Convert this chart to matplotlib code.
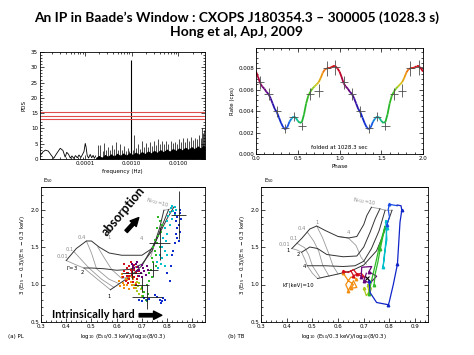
import numpy as np
import matplotlib

matplotlib.use("Agg")
import matplotlib.pyplot as plt
from matplotlib.collections import LineCollection
from matplotlib.colors import LinearSegmentedColormap
from matplotlib.patches import FancyArrowPatch
from matplotlib.ticker import MultipleLocator, FixedLocator

W, H = 474, 355

# --- power density spectrum ---
f_low = [1.12e-5, 1.25e-5, 1.43e-5, 1.65e-5, 1.9e-5, 2.15e-5, 2.5e-5, 2.98e-5, 3.4e-5,
         3.8e-5, 4.1e-5, 4.5e-5, 4.9e-5, 5.3e-5, 5.8e-5, 6.3e-5, 6.9e-5, 7.5e-5, 8.2e-5,
         9.0e-5, 9.6e-5, 1.02e-4, 1.06e-4, 1.12e-4, 1.2e-4, 1.3e-4, 1.4e-4, 1.5e-4,
         1.6e-4, 1.7e-4]
p_low = [1.2, 2.2, 2.9, 2.6, 1.3, 0.2, 1.8, 3.5, 2.8, 0.6, 2.2, 1.5, 0.3, 1.0, 0.2, 1.1,
         0.4, 1.3, 0.5, 1.6, 2.5, 5.1, 4.0, 1.2, 0.3, 1.5, 0.4, 1.2, 0.2, 1.0]
f_env = [1.7e-4, 2.0e-4, 2.3e-4, 2.7e-4, 3.1e-4, 3.6e-4, 4.2e-4, 4.9e-4, 5.7e-4, 6.6e-4,
         7.7e-4, 9.0e-4, 1.05e-3, 1.22e-3, 1.42e-3, 1.65e-3, 1.92e-3, 2.24e-3, 2.6e-3,
         3.0e-3, 3.5e-3, 4.1e-3, 4.8e-3, 5.6e-3, 6.5e-3, 7.6e-3, 8.8e-3, 1.03e-2, 1.2e-2,
         1.4e-2, 1.63e-2, 1.9e-2, 2.2e-2, 2.6e-2, 3.0e-2, 3.4e-2, 3.7e-2]
p_env = [0.5, 1.2, 0.6, 1.5, 0.9, 1.7, 1.0, 1.9, 1.2, 2.0, 1.3, 2.1, 1.5, 2.3, 1.6, 2.5,
         1.8, 2.7, 2.0, 2.9, 2.2, 3.1, 2.4, 3.3, 2.6, 3.5, 2.8, 3.7, 3.0, 3.9, 3.2, 4.1,
         3.4, 4.3, 3.6, 4.6, 4.0]
f_spk = [1.9e-4, 2.1e-4, 2.4e-4, 2.6e-4, 2.9e-4, 3.1e-4, 3.5e-4, 3.8e-4, 4.2e-4, 4.6e-4,
         5.1e-4, 5.6e-4, 6.2e-4, 6.8e-4, 7.5e-4, 8.3e-4, 9.0e-4, 1.08e-3, 1.15e-3, 1.25e-3,
         1.35e-3, 1.5e-3, 1.65e-3, 1.8e-3, 2.0e-3, 2.2e-3, 2.45e-3, 2.7e-3, 3.0e-3, 3.3e-3,
         3.7e-3, 4.1e-3, 4.5e-3, 5.0e-3, 5.5e-3, 6.1e-3, 6.8e-3, 7.5e-3, 8.3e-3, 9.2e-3,
         1.02e-2, 1.12e-2, 1.24e-2, 1.37e-2, 1.52e-2, 1.68e-2, 1.85e-2, 2.05e-2, 2.25e-2,
         2.5e-2, 2.75e-2, 3.0e-2, 3.2e-2, 3.4e-2, 3.55e-2]
p_spk = [4.5, 4.7, 2.5, 5.3, 3.0, 4.0, 2.8, 4.6, 3.2, 5.5, 2.9, 4.8, 3.1, 4.2, 2.7, 3.5,
         2.5, 3.0, 8.0, 3.5, 5.0, 3.2, 6.0, 3.8, 5.2, 4.0, 5.5, 4.3, 6.0, 4.5, 6.5, 4.8,
         6.0, 5.0, 5.8, 4.8, 6.0, 5.2, 5.5, 4.9, 6.5, 5.4, 7.0, 5.6, 6.8, 5.8, 7.2, 6.2,
         7.0, 6.4, 8.0, 7.0, 10.0, 8.5, 9.5]
pulse_freq, pulse_pow = 9.725e-4, 32.5
sig_levels = [15.5, 14.2, 13.1]

# --- folded light curve ---
bin_phase = [0.05, 0.15, 0.25, 0.35, 0.45, 0.55, 0.65, 0.75, 0.85, 0.95]
bin_rate = [0.0067, 0.0056, 0.0040, 0.0024, 0.0035, 0.0026, 0.0056, 0.0059, 0.0080, 0.0081]
bin_err = [0.0006, 0.0006, 0.0005, 0.0004, 0.0004, 0.0004, 0.0006, 0.0006, 0.0007, 0.0007]
curve_phase = [0.0, 0.025, 0.05, 0.075, 0.1, 0.125, 0.15, 0.175, 0.2, 0.225, 0.25, 0.275,
               0.3, 0.325, 0.35, 0.375, 0.4, 0.425, 0.45, 0.475, 0.5, 0.525, 0.55, 0.575,
               0.6, 0.625, 0.65, 0.675, 0.7, 0.725, 0.75, 0.775, 0.8, 0.825, 0.85, 0.875,
               0.9, 0.925, 0.95, 0.975, 1.0]
curve_rate = [0.0077, 0.0072, 0.0066, 0.0063, 0.0061, 0.0058, 0.0056, 0.0052, 0.0047,
              0.0042, 0.0039, 0.0034, 0.0029, 0.0025, 0.0023, 0.0025, 0.0030, 0.0033,
              0.0035, 0.0034, 0.0031, 0.0029, 0.0030, 0.0037, 0.0047, 0.0054, 0.0058,
              0.0061, 0.0063, 0.0065, 0.0067, 0.0071, 0.0076, 0.0079, 0.0080, 0.0080,
              0.0081, 0.0082, 0.0082, 0.0080, 0.0077]

# --- (a) PL quantile diagram: model grid ---
pl_gamma = {
    "3": ([0.40, 0.44, 0.48, 0.50, 0.53, 0.57, 0.62, 0.70, 0.74, 0.77, 0.80, 0.826],
          [1.32, 1.48, 1.58, 1.58, 1.50, 1.42, 1.39, 1.39, 1.48, 1.68, 1.88, 2.03]),
    "2": ([0.47, 0.50, 0.55, 0.60, 0.65, 0.70, 0.74, 0.77, 0.806],
          [1.22, 1.22, 1.21, 1.19, 1.20, 1.27, 1.45, 1.70, 2.00]),
    "1": ([0.575, 0.61, 0.65, 0.70, 0.75, 0.77, 0.787],
          [0.93, 1.01, 1.10, 1.25, 1.55, 1.75, 1.99]),
}
pl_nh = {
    "0.01": ([0.40, 0.44, 0.47, 0.52, 0.575], [1.32, 1.26, 1.22, 1.08, 0.93]),
    "0.1": ([0.43, 0.46, 0.49, 0.54, 0.59], [1.44, 1.33, 1.22, 1.07, 0.96]),
    "0.4": ([0.48, 0.50, 0.52, 0.57, 0.61], [1.58, 1.42, 1.21, 1.07, 1.01]),
    "1": ([0.525, 0.55, 0.58, 0.62, 0.65], [1.50, 1.36, 1.20, 1.08, 1.10]),
    "4": ([0.755, 0.745, 0.735], [1.60, 1.48, 1.37]),
    "10": ([0.826, 0.806, 0.787], [2.03, 2.00, 1.99]),
}
pl_nh_label = {"0.01": (0.385, 1.38), "0.1": (0.415, 1.47), "0.4": (0.462, 1.63),
               "1": (0.568, 1.63), "4": (0.70, 1.61)}
pl_gamma_label = {r"$\Gamma$=3": (0.425, 1.225), "2": (0.462, 1.16), "1": (0.568, 0.84)}

# observed phase-resolved quantiles (a)
pl_clusters = [
    (0.80, [0.61, 0.615, 0.62, 0.625, 0.63, 0.635, 0.64, 0.645, 0.65, 0.655, 0.66, 0.665,
            0.67, 0.675, 0.62, 0.64, 0.66, 0.63, 0.65],
     [1.05, 0.98, 1.10, 1.02, 0.96, 1.08, 1.00, 1.12, 0.94, 1.04, 0.99, 1.07, 0.95, 1.02,
      1.14, 1.06, 1.10, 1.00, 1.09]),
    (0.93, [0.625, 0.63, 0.635, 0.64, 0.64, 0.645, 0.65, 0.65, 0.655, 0.66, 0.66, 0.665,
            0.67, 0.67, 0.675, 0.68, 0.68, 0.685, 0.69, 0.63, 0.645, 0.655, 0.665, 0.675,
            0.64, 0.66, 0.67, 0.65],
     [1.10, 1.18, 1.05, 1.22, 1.12, 1.15, 1.25, 1.08, 1.19, 1.13, 1.27, 1.04, 1.20, 1.10,
      1.16, 1.24, 1.07, 1.12, 1.18, 1.28, 1.02, 1.30, 1.22, 1.00, 1.15, 1.17, 1.26, 1.11]),
    (0.10, [0.66, 0.665, 0.67, 0.675, 0.68, 0.685, 0.69, 0.695, 0.70, 0.705, 0.71, 0.715,
            0.72, 0.725, 0.70, 0.69, 0.68],
     [1.28, 1.25, 1.22, 1.27, 1.18, 1.24, 1.20, 1.15, 1.26, 1.22, 1.18, 1.13, 1.25, 1.20,
      1.10, 1.12, 1.30]),
    (0.70, [0.67, 0.675, 0.68, 0.685, 0.69, 0.695, 0.70, 0.705, 0.68, 0.69, 0.70],
     [1.00, 0.95, 0.92, 0.98, 0.88, 0.94, 0.85, 0.90, 1.04, 1.02, 0.97]),
    (0.60, [0.70, 0.705, 0.71, 0.715, 0.72, 0.72, 0.725, 0.73, 0.735, 0.74, 0.745, 0.75,
            0.75, 0.755, 0.76, 0.76, 0.765, 0.77, 0.77, 0.775, 0.78, 0.745, 0.755, 0.765,
            0.74, 0.73],
     [0.95, 0.85, 0.90, 0.80, 0.78, 1.00, 0.88, 1.05, 1.20, 1.35, 1.30, 1.45, 1.60, 1.40,
      1.55, 1.75, 1.65, 1.50, 1.85, 1.70, 1.80, 1.50, 1.25, 1.90, 1.10, 1.15]),
    (0.45, [0.76, 0.765, 0.77, 0.775, 0.78, 0.78, 0.785, 0.79, 0.79, 0.795, 0.80, 0.80,
            0.805, 0.81, 0.81, 0.815, 0.82, 0.82, 0.825, 0.83, 0.83, 0.835, 0.79, 0.80],
     [1.30, 1.22, 1.40, 1.28, 1.50, 1.35, 1.62, 1.45, 1.75, 1.58, 1.85, 1.68, 1.92, 1.80,
      1.97, 2.02, 1.88, 2.05, 1.98, 2.03, 1.93, 2.00, 1.25, 1.40]),
    (0.30, [0.83, 0.835, 0.84, 0.84, 0.845, 0.85, 0.85, 0.855, 0.84, 0.845, 0.835, 0.85,
            0.83, 0.82, 0.815, 0.81, 0.80, 0.69, 0.70, 0.71, 0.72, 0.73, 0.76, 0.77, 0.775,
            0.78, 0.785, 0.75, 0.79, 0.825],
     [1.95, 1.85, 1.90, 1.75, 1.80, 1.70, 1.95, 1.88, 1.62, 1.58, 1.68, 2.00, 1.55, 1.40,
      1.25, 1.05, 1.15, 0.80, 0.78, 0.82, 0.79, 0.81, 0.84, 0.80, 0.76, 0.78, 0.82, 0.86,
      0.80, 1.45]),
]
pl_err_x = [0.72, 0.845, 0.77, 0.66, 0.70, 0.745]
pl_err_y = [0.83, 1.93, 1.55, 1.15, 1.00, 1.20]
pl_err_dx = [0.06, 0.03, 0.04, 0.04, 0.03, 0.02]
pl_err_dy = [0.16, 0.32, 0.22, 0.08, 0.10, 0.10]

# --- (b) TB quantile diagram ---
tb_kt = {
    "1": ([0.42, 0.46, 0.49, 0.517, 0.55, 0.60, 0.64, 0.673, 0.70, 0.712, 0.73],
          [1.48, 1.62, 1.74, 1.78, 1.72, 1.64, 1.62, 1.64, 1.80, 1.92, 2.03]),
    "2": ([0.458, 0.49, 0.52, 0.556, 0.62, 0.673, 0.70, 0.725, 0.745, 0.763],
          [1.43, 1.50, 1.48, 1.40, 1.37, 1.38, 1.50, 1.70, 1.88, 2.01]),
    "4": ([0.48, 0.55, 0.62, 0.666, 0.70, 0.73, 0.76, 0.783],
          [1.25, 1.25, 1.24, 1.25, 1.31, 1.48, 1.72, 1.99]),
    "10": ([0.52, 0.56, 0.60, 0.65, 0.70, 0.75, 0.78, 0.81],
           [1.08, 1.11, 1.14, 1.18, 1.26, 1.45, 1.70, 1.99]),
}
tb_nh = {
    "0.01": ([0.42, 0.44, 0.458, 0.47, 0.48, 0.50, 0.52], [1.48, 1.46, 1.43, 1.34, 1.25, 1.15, 1.08]),
    "0.1": ([0.44, 0.47, 0.485, 0.50, 0.53], [1.55, 1.49, 1.40, 1.25, 1.09]),
    "0.4": ([0.48, 0.505, 0.525, 0.54, 0.565], [1.70, 1.58, 1.44, 1.26, 1.11]),
    "1": ([0.517, 0.54, 0.565, 0.58, 0.60], [1.78, 1.62, 1.40, 1.25, 1.14]),
    "4": ([0.60, 0.64, 0.67, 0.69, 0.71], [1.64, 1.62, 1.52, 1.36, 1.27]),
    "10": ([0.73, 0.763, 0.783, 0.81], [2.03, 2.01, 1.99, 1.99]),
}
tb_nh_label = {"0.01": (0.393, 1.54), "0.1": (0.426, 1.61), "0.4": (0.458, 1.74),
               "1": (0.517, 1.83), "4": (0.64, 1.70)}
tb_kt_label = {"1": (0.405, 1.46), "2": (0.445, 1.40), "4": (0.471, 1.24),
               "kT(keV)=10": (0.445, 0.99)}
tb_tracks = [
    (0.80, [0.62, 0.64, 0.66, 0.65, 0.673, 0.66, 0.64, 0.63, 0.65, 0.67],
     [1.15, 1.05, 1.00, 0.95, 0.96, 1.05, 0.92, 1.00, 1.10, 1.08]),
    (0.93, [0.62, 0.64, 0.66, 0.673, 0.705, 0.69, 0.66, 0.65],
     [1.18, 1.16, 1.20, 1.14, 1.09, 1.15, 1.12, 1.18]),
    (0.10, [0.69, 0.692, 0.731, 0.72, 0.75, 0.725, 0.70, 0.71],
     [1.10, 1.23, 1.24, 1.17, 1.11, 1.02, 1.05, 1.15]),
    (0.70, [0.70, 0.71, 0.72, 0.715, 0.73, 0.72], [0.95, 0.85, 0.90, 1.00, 0.95, 0.86]),
    (0.60, [0.72, 0.73, 0.75, 0.76, 0.77, 0.783, 0.764, 0.755, 0.745, 0.74],
     [0.88, 1.05, 1.34, 1.50, 1.62, 1.78, 1.47, 1.30, 1.15, 1.00]),
    (0.45, [0.785, 0.79, 0.78, 0.775, 0.78, 0.785, 0.79],
     [1.85, 1.60, 1.40, 1.23, 1.35, 1.55, 1.75]),
    (0.38, [0.79, 0.80, 0.795, 0.80, 0.83], [1.80, 1.90, 2.00, 2.07, 2.05]),
    (0.28, [0.72, 0.725, 0.75, 0.796, 0.80, 0.815, 0.831, 0.836, 0.841, 0.848, 0.845, 0.83],
     [1.05, 0.89, 0.76, 0.73, 0.78, 1.00, 1.27, 1.55, 1.83, 1.99, 2.05, 2.06]),
]

phase_cmap = LinearSegmentedColormap.from_list("phase", [
    (0.00, (0.80, 0.00, 0.10)), (0.08, (0.45, 0.00, 0.45)), (0.18, (0.25, 0.05, 0.60)),
    (0.25, (0.05, 0.10, 0.75)), (0.38, (0.10, 0.30, 0.90)), (0.45, (0.00, 0.75, 0.80)),
    (0.55, (0.10, 0.70, 0.20)), (0.65, (0.25, 0.75, 0.10)), (0.72, (0.80, 0.80, 0.10)),
    (0.80, (0.95, 0.55, 0.05)), (0.88, (0.85, 0.10, 0.10)), (1.00, (0.80, 0.00, 0.10))])

TICK = dict(direction="in", labelsize=4, width=0.5, pad=1.5)


def px_axes(fig, l, t, r, b):
    return fig.add_axes([l / W, 1 - b / H, (r - l) / W, (b - t) / H])


def idl_style(ax, top=True):
    for s in ax.spines.values():
        s.set_linewidth(0.6)
    ax.tick_params(which="both", right=True, top=top, **TICK)
    ax.tick_params(which="major", length=3)
    ax.tick_params(which="minor", length=1.5)


def e_to_x(e):
    e = np.clip(np.asarray(e, dtype=float), 1e-3, None)
    return np.log10(e / 0.3) / np.log10(8 / 0.3)


def x_to_e(x):
    return 0.3 * (8 / 0.3) ** np.asarray(x, dtype=float)


def quantile_axes(ax, label):
    ax.set_xlim(0.3, 0.95)
    ax.set_ylim(0.5, 2.3)
    idl_style(ax, top=False)
    ax.set_xticks([0.3, 0.4, 0.5, 0.6, 0.7, 0.8, 0.9])
    ax.set_xticklabels(["0.3", "0.4", "0.5", "0.6", "0.7", "0.8", "0.9"])
    ax.xaxis.set_minor_locator(MultipleLocator(0.02))
    ax.set_yticks([0.5, 1.0, 1.5, 2.0])
    ax.set_yticklabels(["0.5", "1.0", "1.5", "2.0"])
    ax.yaxis.set_minor_locator(MultipleLocator(0.1))
    sec = ax.secondary_xaxis("top", functions=(e_to_x, x_to_e))
    sec.set_xticks([1, 2, 3, 4, 5, 6])
    sec.set_xticklabels(["1", "2", "3", "4", "5", "6 keV"])
    sec.xaxis.set_minor_locator(FixedLocator([1.5, 2.5, 3.5, 4.5, 5.5, 6.5]))
    sec.tick_params(which="both", **TICK)
    sec.tick_params(which="major", length=3)
    sec.tick_params(which="minor", length=1.5)
    sec.spines["top"].set_linewidth(0.6)
    ax.text(0.015, 1.012, r"E$_{50}$", transform=ax.transAxes, fontsize=4,
            ha="left", va="bottom")
    ax.set_xlabel(r"log$_{10}$ (E$_{50}$/0.3 keV)/log$_{10}$(8/0.3)", fontsize=4, labelpad=2)
    ax.set_ylabel(r"3 (E$_{25}$ $-$ 0.3)/(E$_{75}$ $-$ 0.3 keV)", fontsize=4, labelpad=2)
    ax.text(-0.2, -0.09, label, transform=ax.transAxes, fontsize=4, ha="left", va="top")


fig = plt.figure(figsize=(W / 100, H / 100), dpi=100)
fig.text(0.5, 1 - 18 / H, "An IP in Baade’s Window : CXOPS J180354.3 – 300005 (1028.3 s)",
         ha="center", va="center", fontsize=9.9, fontweight="bold", family="Lato")
fig.text(0.5, 1 - 32 / H, "Hong et al, ApJ, 2009", ha="center", va="center",
         fontsize=10, fontweight="bold", family="Lato")

# PDS
ax1 = px_axes(fig, 40, 52, 205, 159)
ax1.set_xscale("log")
ax1.plot(f_low, p_low, color="k", lw=0.6)
ax1.fill_between(f_env, 0, p_env, color="k", lw=0)
ax1.vlines(f_spk, 0, p_spk, color="k", lw=0.5)
ax1.vlines([pulse_freq], 0, [pulse_pow], color="k", lw=0.8)
for lvl in sig_levels:
    ax1.axhline(lvl, color=(0.88, 0.30, 0.30), lw=0.8)
ax1.set_xlim(1.1e-5, 3.7e-2)
ax1.set_ylim(0, 35)
idl_style(ax1)
ax1.yaxis.set_major_locator(MultipleLocator(5))
ax1.yaxis.set_minor_locator(MultipleLocator(1))
ax1.set_xticks([1e-4, 1e-3, 1e-2])
ax1.set_xticklabels(["0.0001", "0.0010", "0.0100"])
ax1.set_xlabel("frequency (Hz)", fontsize=4, labelpad=2)
ax1.set_ylabel("PDS", fontsize=4, labelpad=3)

# folded light curve
ax2 = px_axes(fig, 256, 48, 423, 154)
ph = np.array(curve_phase)
rt = np.array(curve_rate)
for cyc in (0, 1):
    x = ph + cyc
    pts = np.column_stack([x, rt]).reshape(-1, 1, 2)
    segs = np.concatenate([pts[:-1], pts[1:]], axis=1)
    lc = LineCollection(segs, cmap=phase_cmap, linewidth=1.3)
    lc.set_array((ph[:-1] + ph[1:]) / 2)
    lc.set_clim(0, 1)
    ax2.add_collection(lc)
    ax2.errorbar(np.array(bin_phase) + cyc, bin_rate, xerr=0.05, yerr=bin_err, fmt="none",
                 ecolor="0.3", elinewidth=0.6)
ax2.set_xlim(0, 2)
ax2.set_ylim(0, 0.0099)
idl_style(ax2)
ax2.set_xticks([0, 0.5, 1.0, 1.5, 2.0])
ax2.set_xticklabels(["0.0", "0.5", "1.0", "1.5", "2.0"])
ax2.xaxis.set_minor_locator(MultipleLocator(0.1))
ax2.set_yticks([0, 0.002, 0.004, 0.006, 0.008])
ax2.set_yticklabels(["0.000", "0.002", "0.004", "0.006", "0.008"])
ax2.yaxis.set_minor_locator(MultipleLocator(0.0005))
ax2.text(0.5, 0.06, "folded at 1028.3 sec", transform=ax2.transAxes, fontsize=4,
         ha="center", va="center")
ax2.set_xlabel("Phase", fontsize=4, labelpad=2)
ax2.set_ylabel("Rate (cps)", fontsize=4, labelpad=2)

# (a) PL
ax3 = px_axes(fig, 41, 187, 205, 322)
for name, (x, y) in pl_nh.items():
    ax3.plot(x, y, color="0.6", lw=0.6)
for name, (x, y) in pl_gamma.items():
    ax3.plot(x, y, color="0.2", lw=0.7)
for ph_c, x, y in pl_clusters:
    ax3.scatter(x, y, s=4.5, marker="s", color=phase_cmap(ph_c), linewidths=0, zorder=3)
ax3.errorbar(pl_err_x, pl_err_y, xerr=pl_err_dx, yerr=pl_err_dy, fmt="none", ecolor="0.1",
             elinewidth=0.6, zorder=4)
for txt, (x, y) in pl_nh_label.items():
    ax3.text(x, y, txt, fontsize=3.8, color="0.55", ha="center", va="center")
for txt, (x, y) in pl_gamma_label.items():
    ax3.text(x, y, txt, fontsize=3.8, color="k", ha="center", va="center")
ax3.text(0.76, 2.09, r"N$_{H22}$=10", fontsize=3.6, color="0.55", ha="center",
         va="center", rotation=-15)
ax3.text(0.625, 1.98, "absorption", fontsize=9, fontweight="bold", family="Lato",
         rotation=50, ha="center", va="center")
ax3.add_patch(FancyArrowPatch((0.63, 1.68), (0.695, 1.92), arrowstyle="simple",
                              mutation_scale=12, color="k"))
ax3.text(0.508, 0.60, "Intrinsically hard", fontsize=8, fontweight="bold", family="Lato",
         ha="center", va="center")
ax3.add_patch(FancyArrowPatch((0.678, 0.59), (0.79, 0.59), arrowstyle="simple",
                              mutation_scale=12, color="k"))
quantile_axes(ax3, "(a) PL")

# (b) TB
ax4 = px_axes(fig, 261, 187, 428, 322)
for name, (x, y) in tb_nh.items():
    ax4.plot(x, y, color="0.6", lw=0.6)
for name, (x, y) in tb_kt.items():
    ax4.plot(x, y, color="0.2", lw=0.7)
for ph_c, x, y in tb_tracks:
    ax4.plot(x, y, color=phase_cmap(ph_c), lw=0.9, marker="^", ms=1.8, markevery=3, zorder=3)
ax4.plot([0.712], [1.09], "kx", ms=3, mew=0.8, zorder=4)
for txt, (x, y) in tb_nh_label.items():
    ax4.text(x, y, txt, fontsize=3.8, color="0.55", ha="center", va="center")
for txt, (x, y) in tb_kt_label.items():
    ax4.text(x, y, txt, fontsize=3.8, color="k", ha="center", va="center")
ax4.text(0.70, 2.10, r"N$_{H22}$=10", fontsize=3.6, color="0.55", ha="center",
         va="center", rotation=-10)
quantile_axes(ax4, "(b) TB")

fig.savefig("out.png", dpi=100)
